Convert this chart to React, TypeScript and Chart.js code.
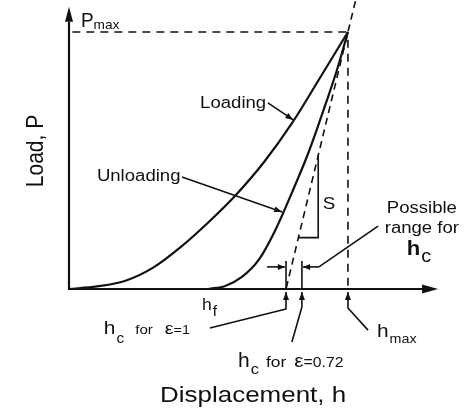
import React, { useEffect, useRef } from "react";
import { Chart, registerables } from "chart.js";

Chart.register(...registerables);

// Load–displacement record of an indentation test (normalised: hMax = 1, Pmax = 1)
const loadingH = [0, 0.1, 0.2, 0.3, 0.4, 0.5, 0.6, 0.7, 0.8, 0.9, 1.0];
const loadingP = [0, 0.01, 0.031, 0.082, 0.163, 0.26, 0.368, 0.495, 0.646, 0.822, 1.0];
const unloadingH = [0.5, 0.56, 0.62, 0.68, 0.74, 0.8, 0.86, 0.92, 0.96, 1.0];
const unloadingP = [0, 0.012, 0.047, 0.113, 0.23, 0.377, 0.535, 0.72, 0.85, 1.0];

// Characteristic depths and loads
const hMax = 1.0;
const pMax = 1.0;
const hF = 0.5;
const hR = 0.778; // tangent intercept: hc for ε = 1
const hC072 = 0.835; // hc for ε = 0.72

// Stiffness triangle (load levels along the unloading tangent)
const sTriangleP = [0.2, 0.52];

const FONT = '"Liberation Sans", Arial, Helvetica, sans-serif';
const INK = "#111";

// Depth on the unloading tangent at a given load
const tangentH = (p: number) => hR + (p * (hMax - hR)) / pMax;

type Run = { t: string; size: number; gap?: number; dy?: number; bold?: boolean; sx?: number };

const annotations = {
  id: "indentAnnotations",
  afterDatasetsDraw(chart: any) {
    const ctx: CanvasRenderingContext2D = chart.ctx;
    const xs = chart.scales.x;
    const ys = chart.scales.y;
    const X = (v: number) => xs.getPixelForValue(v);
    const Y = (v: number) => ys.getPixelForValue(v);

    const head = (tx: number, ty: number, fx: number, fy: number, len: number, hw: number) => {
      const a = Math.atan2(ty - fy, tx - fx);
      const c = Math.cos(a);
      const s = Math.sin(a);
      ctx.beginPath();
      ctx.moveTo(tx, ty);
      ctx.lineTo(tx - len * c + hw * s, ty - len * s - hw * c);
      ctx.lineTo(tx - len * c - hw * s, ty - len * s + hw * c);
      ctx.closePath();
      ctx.fill();
    };

    // polyline in data units, optional arrow at the last point
    const path = (pts: number[][], width: number, arrow?: [number, number]) => {
      ctx.save();
      ctx.strokeStyle = INK;
      ctx.fillStyle = INK;
      ctx.lineWidth = width;
      ctx.lineJoin = "round";
      ctx.beginPath();
      pts.forEach(([h, p], i) => (i ? ctx.lineTo(X(h), Y(p)) : ctx.moveTo(X(h), Y(p))));
      ctx.stroke();
      if (arrow) {
        const [a, b] = pts.slice(-2);
        head(X(b[0]), Y(b[1]), X(a[0]), Y(a[1]), arrow[0], arrow[1]);
      }
      ctx.restore();
    };

    const runs = (h: number, p: number, list: Run[], align: "left" | "center" = "left") => {
      ctx.save();
      ctx.fillStyle = INK;
      ctx.textBaseline = "alphabetic";
      ctx.textAlign = "left";
      const widths = list.map((r) => {
        ctx.font = `${r.bold ? "bold " : ""}${r.size}px ${FONT}`;
        return ctx.measureText(r.t).width * (r.sx ?? 1.16) + (r.gap ?? 0);
      });
      const total = widths.reduce((a, b) => a + b, 0);
      let x = X(h) - (align === "center" ? total / 2 : 0);
      const y = Y(p);
      list.forEach((r, i) => {
        x += r.gap ?? 0;
        ctx.font = `${r.bold ? "bold " : ""}${r.size}px ${FONT}`;
        ctx.save();
        ctx.translate(x, y + (r.dy ?? 0));
        ctx.scale(r.sx ?? 1.16, 1);
        ctx.fillText(r.t, 0, 0);
        ctx.restore();
        x += widths[i] - (r.gap ?? 0);
      });
      ctx.restore();
    };

    // axes with arrowheads
    ctx.save();
    ctx.fillStyle = INK;
    ctx.strokeStyle = INK;
    ctx.lineWidth = 2.2;
    ctx.beginPath();
    ctx.moveTo(X(0), Y(1.04));
    ctx.lineTo(X(0), Y(0));
    ctx.lineTo(X(1.27), Y(0));
    ctx.stroke();
    head(X(0), Y(1.098), X(0), Y(0), 15, 4);
    head(X(1.323), Y(0), X(0), Y(0), 16, 4.5);
    ctx.restore();

    // range markers for hc
    const rangeP = 0.086;
    path([[0.71, rangeP], [hR - 0.004, rangeP]], 1.6, [7, 3]);
    path([[0.896, rangeP], [hC072 + 0.004, rangeP]], 1.6, [7, 3]);
    path([[0.896, rangeP], [1.108, 0.245]], 1.6);

    // leader arrows
    path([[0.713, 0.724], [0.804, 0.658]], 1.6, [8, 3]);
    path([[0.405, 0.436], [0.764, 0.3]], 1.6, [8, 3]);
    path([[0.505, -0.152], [hR, -0.078], [hR, -0.012]], 1.6, [8, 3]);
    path([[0.799, -0.206], [hC072, -0.07], [hC072, -0.012]], 1.6, [8, 3]);
    path([[1.072, -0.16], [hMax, -0.074], [hMax, -0.012]], 1.6, [8, 3]);

    // text
    runs(0.043, 1.019, [
      { t: "P", size: 21, sx: 0.9 },
      { t: "max", size: 13, dy: 2, sx: 1.05 },
    ]);
    runs(0.47, 0.704, [{ t: "Loading", size: 16 }]);
    runs(0.1, 0.42, [{ t: "Unloading", size: 16 }]);
    runs(0.91, 0.311, [{ t: "S", size: 17, sx: 1.1 }]);
    runs(1.265, 0.296, [{ t: "Possible", size: 16 }], "center");
    runs(1.265, 0.218, [{ t: "range for", size: 16 }], "center");
    runs(1.211, 0.132, [
      { t: "h", size: 21, bold: true, sx: 1.05 },
      { t: "c", size: 18, dy: 7, sx: 1.1, gap: 1 },
    ]);
    runs(0.477, -0.082, [
      { t: "h", size: 16, sx: 1.1 },
      { t: "f", size: 14, dy: 6, sx: 1.1, gap: 1 },
    ]);
    runs(0.125, -0.175, [
      { t: "h", size: 19, sx: 1.1 },
      { t: "c", size: 14, dy: 9, sx: 1.1, gap: 1 },
      { t: "for", size: 13, gap: 11 },
      { t: "ε", size: 17, gap: 12 },
      { t: "=1", size: 13, sx: 1.1 },
    ]);
    runs(0.606, -0.304, [
      { t: "h", size: 20, sx: 1.05 },
      { t: "c", size: 15, dy: 7, sx: 1.1, gap: 1 },
      { t: "for", size: 15, gap: 7 },
      { t: "ε", size: 18, gap: 8 },
      { t: "=0.72", size: 15, sx: 1.05 },
    ]);
    runs(1.104, -0.187, [
      { t: "h", size: 19, sx: 1.1 },
      { t: "max", size: 13, dy: 6, sx: 1.1, gap: 1 },
    ]);
    runs(0.66, -0.438, [{ t: "Displacement, h", size: 22, sx: 1.18 }], "center");

    // vertical axis title
    ctx.save();
    ctx.fillStyle = INK;
    ctx.font = `21px ${FONT}`;
    ctx.textAlign = "center";
    ctx.textBaseline = "alphabetic";
    ctx.translate(X(-0.093), Y(0.537));
    ctx.rotate(-Math.PI / 2);
    ctx.scale(1, 1.1);
    ctx.fillText("Load, P", 0, 0);
    ctx.restore();
  },
};

export default function App() {
  const ref = useRef<HTMLCanvasElement | null>(null);

  useEffect(() => {
    if (!ref.current) return;
    const pts = (hs: number[], ps: number[]) => hs.map((h, i) => ({ x: h, y: ps[i] }));
    const seg = (a: number[], b: number[]) => [
      { x: a[0], y: a[1] },
      { x: b[0], y: b[1] },
    ];
    const line = (data: any[], width: number, dash: number[] = [], curve = false) => ({
      data,
      borderColor: INK,
      borderWidth: width,
      borderDash: dash,
      pointRadius: 0,
      fill: false,
      clip: false,
      cubicInterpolationMode: curve ? "monotone" : "default",
    });

    const tanTop = 1.12;
    const chart = new Chart(ref.current, {
      type: "line",
      data: {
        datasets: [
          line(pts(loadingH, loadingP), 2.2, [], true),
          line(pts(unloadingH, unloadingP), 2.2, [], true),
          line(seg([0.012, pMax], [hMax, pMax]), 1.6, [8, 6]),
          line(seg([hMax, pMax - 0.03], [hMax, 0]), 1.6, [8, 6]),
          line(seg([tangentH(tanTop), tanTop], [hR, 0]), 1.6, [7, 5]),
          line(
            [
              { x: tangentH(sTriangleP[1]), y: sTriangleP[1] },
              { x: tangentH(sTriangleP[1]), y: sTriangleP[0] },
              { x: tangentH(sTriangleP[0]), y: sTriangleP[0] },
            ],
            1.6
          ),
          line(seg([hR, 0], [hR, 0.109]), 1.6),
          line(seg([hC072, 0], [hC072, 0.109]), 1.6),
          line(seg([hF, 0], [hF, 0]), 0),
        ] as any,
      },
      options: {
        responsive: false,
        animation: false,
        events: [],
        layout: { padding: { left: 69, right: 34, top: 0, bottom: 130 } },
        scales: {
          x: { type: "linear", display: false, min: 0, max: 1.33 },
          y: { type: "linear", display: false, min: 0, max: 1.1245 },
        },
        plugins: { legend: { display: false }, tooltip: { enabled: false } },
      },
      plugins: [annotations],
    });
    return () => chart.destroy();
  }, []);

  return (
    <div style={{ position: "absolute", left: 0, top: 0, width: 474, height: 419, background: "#fff" }}>
      <canvas ref={ref} width={474} height={419} style={{ display: "block" }} />
    </div>
  );
}
